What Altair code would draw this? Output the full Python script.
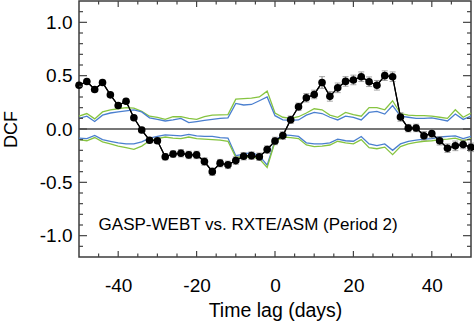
import altair as alt
import pandas as pd

# ---- data ----
lags = list(range(-50, 52, 2))

dcf = [0.41, 0.445, 0.37, 0.436, 0.32, 0.22, 0.26, 0.105, -0.01, -0.105,
       -0.11, -0.26, -0.235, -0.227, -0.243, -0.243, -0.305, -0.40, -0.32, -0.336,
       -0.296, -0.255, -0.25, -0.26, -0.193, -0.112, -0.062, 0.087, 0.208, 0.293,
       0.324, 0.436, 0.306, 0.386, 0.446, 0.46, 0.49, 0.443, 0.41, 0.50,
       0.49, 0.113, 0.008, 0.01, -0.063, -0.042, -0.11, -0.18, -0.158, -0.145,
       -0.172]

dcf_err = [0.02, 0.02, 0.02, 0.02, 0.02, 0.02, 0.02, 0.02, 0.025, 0.025,
           0.025, 0.03, 0.03, 0.035, 0.035, 0.035, 0.035, 0.035, 0.035, 0.035,
           0.035, 0.035, 0.035, 0.035, 0.035, 0.035, 0.035, 0.035, 0.035, 0.04,
           0.04, 0.055, 0.045, 0.045, 0.045, 0.045, 0.045, 0.045, 0.045, 0.045,
           0.045, 0.04, 0.035, 0.035, 0.04, 0.04, 0.04, 0.04, 0.045, 0.04,
           0.04]

upper_green = [0.12, 0.145, 0.095, 0.16, 0.18, 0.19, 0.20, 0.195, 0.165, 0.12,
               0.11, 0.09, 0.115, 0.115, 0.10, 0.09, 0.115, 0.13, 0.133, 0.135,
               0.28, 0.285, 0.29, 0.30, 0.355, 0.15, 0.11, 0.10, 0.115, 0.15,
               0.19, 0.18, 0.13, 0.11, 0.155, 0.135, 0.12, 0.20, 0.20, 0.18,
               0.265, 0.145, 0.13, 0.125, 0.125, 0.12, 0.11, 0.10, 0.18, 0.11,
               0.15]

upper_blue = [0.10, 0.12, 0.07, 0.13, 0.15, 0.16, 0.17, 0.18, 0.16, 0.105,
              0.09, 0.075, 0.085, 0.10, 0.06, 0.07, 0.08, 0.09, 0.10, 0.105,
              0.24, 0.225, 0.23, 0.265, 0.30, 0.125, 0.085, 0.08, 0.085, 0.13,
              0.155, 0.145, 0.11, 0.085, 0.12, 0.11, 0.085, 0.155, 0.165, 0.14,
              0.22, 0.12, 0.11, 0.10, 0.10, 0.105, 0.09, 0.075, 0.14, 0.09,
              0.12]

lower_blue = [-0.085, -0.09, -0.06, -0.10, -0.115, -0.13, -0.14, -0.14, -0.12, -0.085,
              -0.07, -0.055, -0.06, -0.065, -0.05, -0.065, -0.07, -0.07, -0.08, -0.085,
              -0.25, -0.235, -0.22, -0.25, -0.34, -0.11, -0.055, -0.06, -0.07, -0.13,
              -0.14, -0.14, -0.13, -0.095, -0.11, -0.115, -0.07, -0.14, -0.155, -0.14,
              -0.20, -0.14, -0.115, -0.105, -0.095, -0.09, -0.075, -0.07, -0.065, -0.09,
              -0.07]

lower_green = [-0.10, -0.11, -0.08, -0.12, -0.14, -0.16, -0.175, -0.19, -0.16, -0.11,
               -0.09, -0.075, -0.085, -0.09, -0.075, -0.09, -0.095, -0.10, -0.105, -0.115,
               -0.265, -0.265, -0.26, -0.28, -0.36, -0.12, -0.075, -0.08, -0.09, -0.15,
               -0.165, -0.16, -0.15, -0.115, -0.13, -0.14, -0.10, -0.175, -0.185, -0.17,
               -0.24, -0.165, -0.14, -0.125, -0.115, -0.11, -0.10, -0.095, -0.085, -0.11,
               -0.09]

x_major = [-40, -20, 0, 20, 40]
x_minor = [v for v in range(-45, 50, 5) if v % 20 != 0]
y_major = [-1.0, -0.5, 0.0, 0.5, 1.0]
y_minor = [round(v / 10, 1) for v in range(-11, 12) if v % 5 != 0]

annotation = "GASP-WEBT vs. RXTE/ASM (Period 2)"

# ---- build tables ----
W, H = 392, 256
FONT = "Liberation Sans"

df = pd.DataFrame({"lag": lags, "dcf": dcf, "err": dcf_err})
df["lo"] = df["dcf"] - df["err"]
df["hi"] = df["dcf"] + df["err"]

bands = []
for name, vals in [("ug", upper_green), ("ub", upper_blue),
                   ("lb", lower_blue), ("lg", lower_green)]:
    for l, v in zip(lags, vals):
        bands.append({"lag": l, "v": v, "band": name})
bands = pd.DataFrame(bands)

xs = alt.Scale(domain=[-50, 50], nice=False, zero=False)
ys = alt.Scale(domain=[-1.2, 1.2], nice=False, zero=False)

x_enc = alt.X("lag:Q", scale=xs, title="Time lag (days)",
              axis=alt.Axis(values=x_major, tickSize=0, domain=False, grid=False,
                            labelFontSize=19, titleFontSize=19.5, labelPadding=19,
                            titlePadding=6, labelFont=FONT, titleFont=FONT,
                            labelColor="black", titleColor="black",
                            titleFontWeight="normal", labelFlush=False,
                            labelExpr="(datum.value < 0 ? '-' : '') + abs(datum.value)"))
y_enc_axis = alt.Axis(values=y_major, tickSize=0, domain=False, grid=False,
                      labelFontSize=19, titleFontSize=18, labelPadding=7,
                      titlePadding=19, labelFont=FONT, titleFont=FONT,
                      labelColor="black", titleColor="black",
                      titleFontWeight="normal",
                      labelExpr="(datum.value < 0 ? '-' : '') + format(abs(datum.value), '.1f')")

base = alt.Chart(df)

zero = alt.Chart(pd.DataFrame({"z": [0.0]})).mark_rule(
    color="#4a4a4a", strokeWidth=1.5).encode(y=alt.Y("z:Q", scale=ys))

band_lines = alt.Chart(bands).mark_line(strokeWidth=1.3).encode(
    x=alt.X("lag:Q", scale=xs),
    y=alt.Y("v:Q", scale=ys),
    color=alt.Color("band:N", scale=alt.Scale(domain=["ug", "ub", "lb", "lg"],
                                              range=["#86c440", "#4a7fcf", "#4a7fcf", "#86c440"]),
                    legend=None),
    detail="band:N",
)

err_rule = base.mark_rule(color="#808080", strokeWidth=1).encode(
    x=alt.X("lag:Q", scale=xs), y=alt.Y("lo:Q", scale=ys), y2="hi:Q")
cap_lo = base.mark_tick(color="#808080", orient="horizontal", size=6, thickness=1).encode(
    x=alt.X("lag:Q", scale=xs), y=alt.Y("lo:Q", scale=ys))
cap_hi = base.mark_tick(color="#808080", orient="horizontal", size=6, thickness=1).encode(
    x=alt.X("lag:Q", scale=xs), y=alt.Y("hi:Q", scale=ys))

dline = base.mark_line(color="black", strokeWidth=1.2).encode(
    x=x_enc, y=alt.Y("dcf:Q", scale=ys, title="DCF", axis=y_enc_axis))
dpts = base.mark_circle(color="black", size=58, opacity=1).encode(
    x=alt.X("lag:Q", scale=xs), y=alt.Y("dcf:Q", scale=ys))

txt = alt.Chart(pd.DataFrame({"x": [-45.0], "y": [-0.95], "t": [annotation]})).mark_text(
    align="left", baseline="alphabetic", fontSize=17, font=FONT, color="black").encode(
    x=alt.X("x:Q", scale=xs), y=alt.Y("y:Q", scale=ys), text="t:N")

TC = "#444444"
def xticks(vals, length):
    d = pd.DataFrame({"t": vals})
    b = alt.Chart(d).mark_rule(color=TC, strokeWidth=1.2)
    return (b.encode(x=alt.X("t:Q", scale=xs), y=alt.value(H), y2=alt.value(H - length)) +
            b.encode(x=alt.X("t:Q", scale=xs), y=alt.value(0), y2=alt.value(length)))

def yticks(vals, length):
    d = pd.DataFrame({"t": vals})
    b = alt.Chart(d).mark_rule(color=TC, strokeWidth=1.2)
    return (b.encode(y=alt.Y("t:Q", scale=ys), x=alt.value(0), x2=alt.value(length)) +
            b.encode(y=alt.Y("t:Q", scale=ys), x=alt.value(W), x2=alt.value(W - length)))

chart = alt.layer(
    dline, zero, band_lines, err_rule, cap_lo, cap_hi, dline, dpts, txt,
    xticks(x_major, 6), xticks(x_minor, 3.5), yticks(y_major, 8), yticks(y_minor, 4),
).properties(
    width=W, height=H,
    autosize=alt.AutoSizeParams(type="none"),
    padding={"left": 79, "top": 1, "right": 3, "bottom": 69},
    background="white",
).configure_view(stroke="#3c3c3c", strokeWidth=1.5)

chart.save("out.html", embed_options={"renderer": "svg", "actions": False})
